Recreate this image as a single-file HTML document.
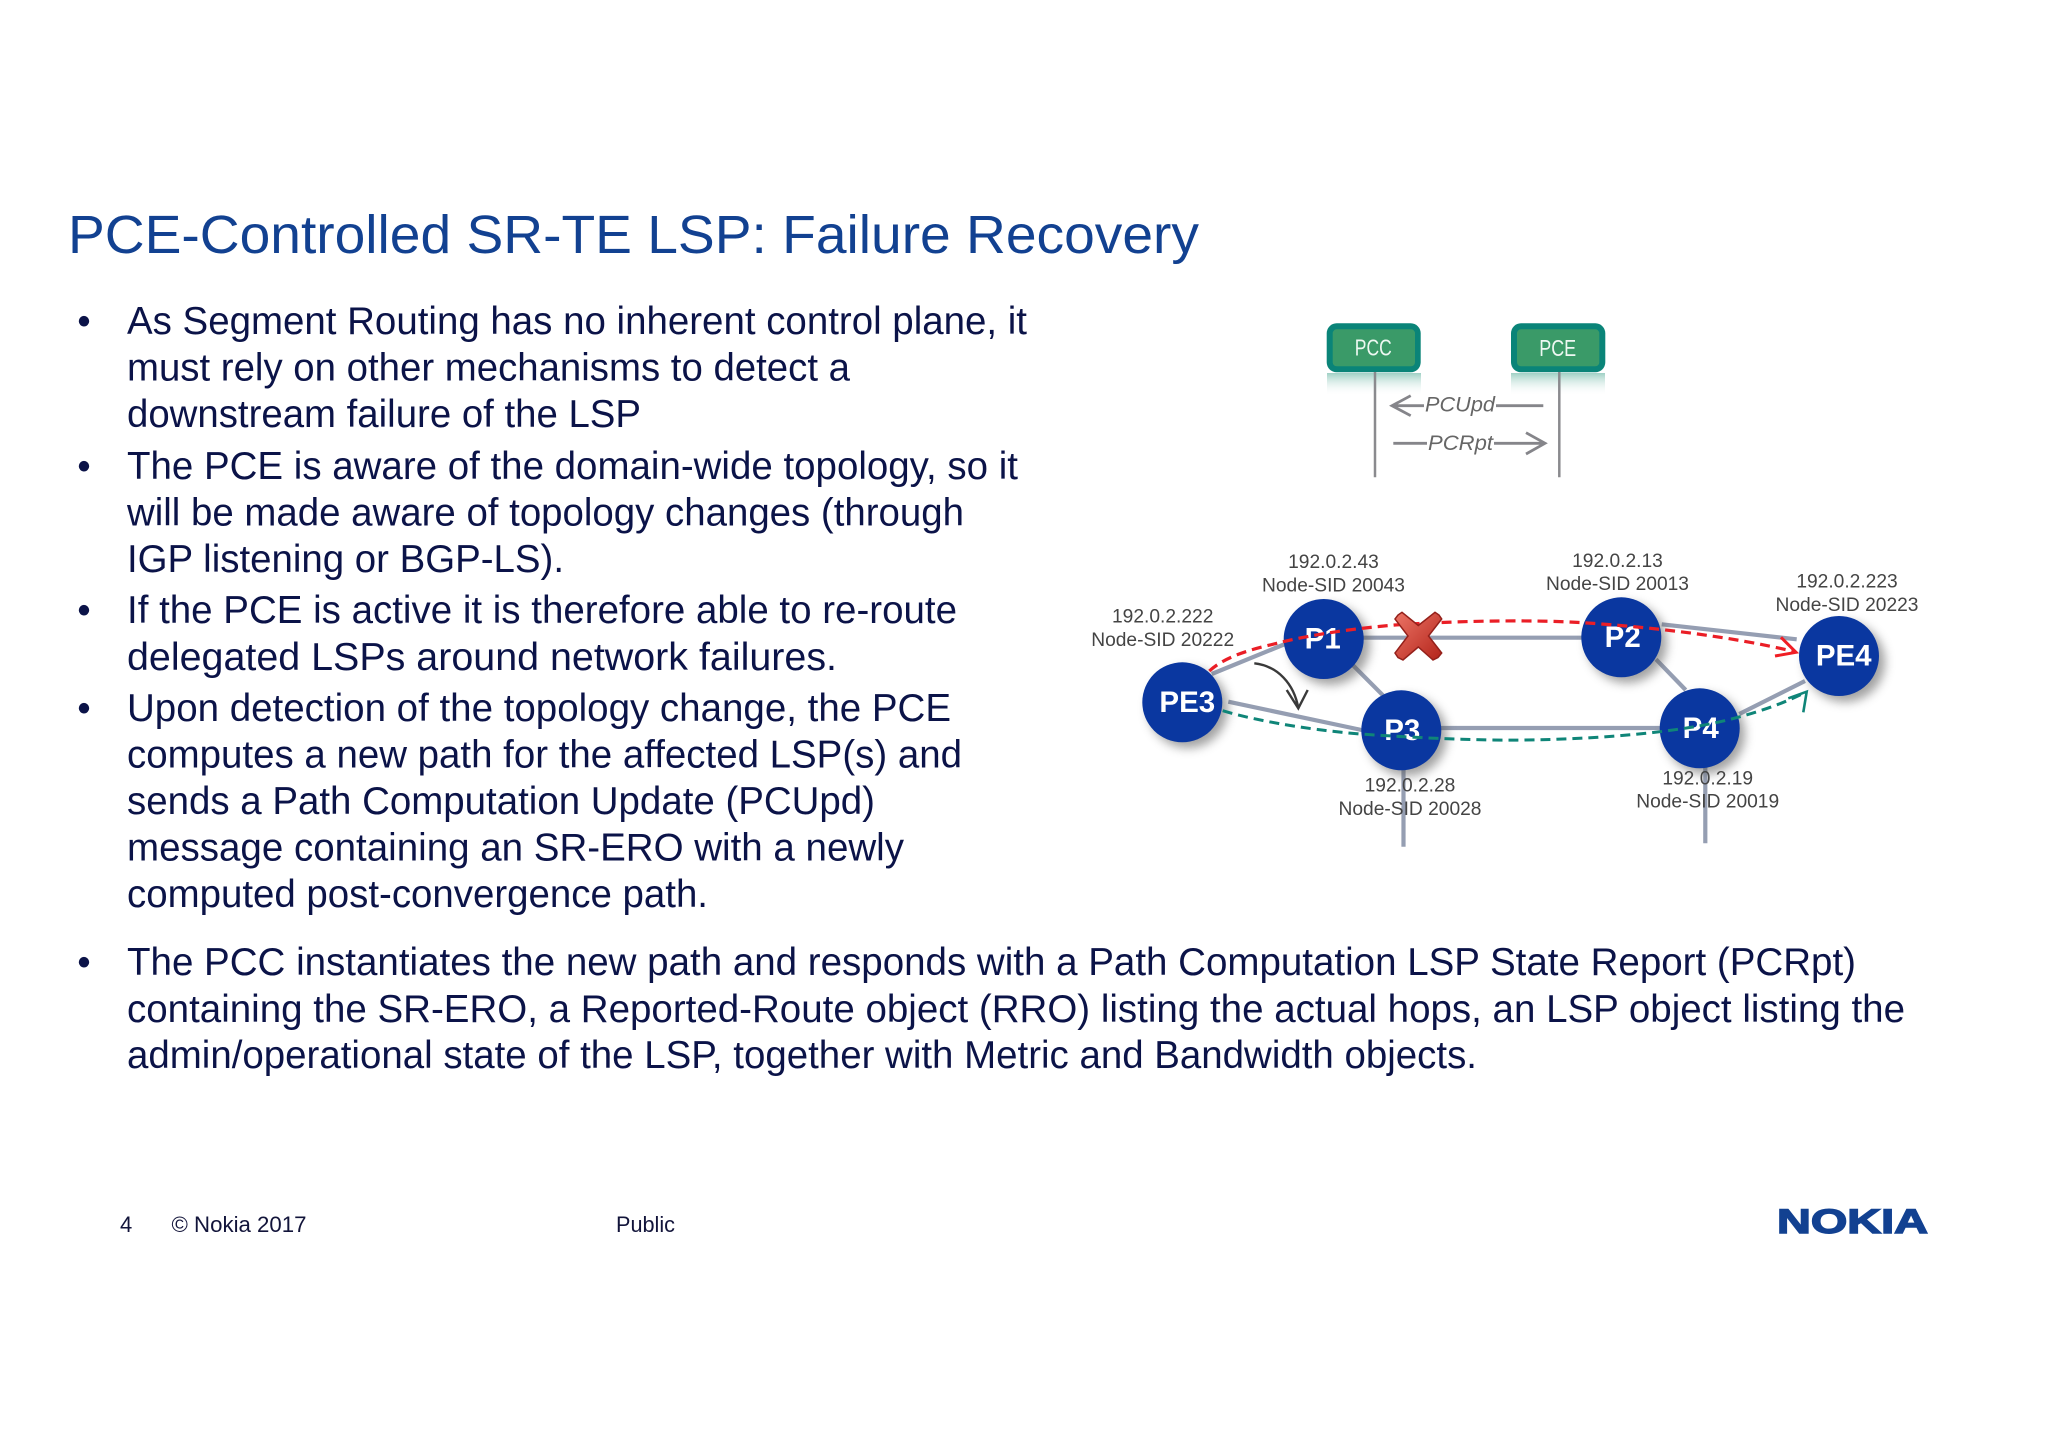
<!DOCTYPE html>
<html><head><meta charset="utf-8"><title>PCE-Controlled SR-TE LSP: Failure Recovery</title>
<style>
html,body{margin:0;padding:0;background:#fff;width:2048px;height:1447px;overflow:hidden}
svg{display:block}
text{font-family:"Liberation Sans",Arial,sans-serif}
.b{font-size:38.5px;fill:#0b1348}
.l{font-size:19.2px;fill:#444;text-anchor:middle}
.n{font-size:29.5px;font-weight:bold;fill:#fff;text-anchor:middle}
.f{font-size:22px;fill:#12143a}
.lk{stroke:#959eb2;stroke-width:4.2;fill:none}
.node{fill:#0a37a0}
</style></head><body>
<svg width="2048" height="1447" viewBox="0 0 2048 1447" xmlns="http://www.w3.org/2000/svg">
<defs>
<filter id="sh" x="-40%" y="-40%" width="200%" height="200%"><feGaussianBlur stdDeviation="5"/></filter>
<linearGradient id="rf" x1="0" y1="0" x2="0" y2="1"><stop offset="0" stop-color="#8ec8ba" stop-opacity=".85"/><stop offset="1" stop-color="#fff" stop-opacity="0"/></linearGradient>
<linearGradient id="xg" x1="0" y1="0" x2="1" y2="1"><stop offset="0" stop-color="#ec7466"/><stop offset="1" stop-color="#b3241a"/></linearGradient>
</defs>
<rect width="2048" height="1447" fill="#fff"/>

<text x="68" y="253" font-size="54" fill="#124191" textLength="1131" lengthAdjust="spacingAndGlyphs">PCE-Controlled SR-TE LSP: Failure Recovery</text>

<g class="bl">
<text class="b" x="84" y="334" text-anchor="middle">•</text>
<text class="b" x="127" y="334" textLength="900" lengthAdjust="spacingAndGlyphs">As Segment Routing has no inherent control plane, it</text>
<text class="b" x="127" y="380.5" textLength="723" lengthAdjust="spacingAndGlyphs">must rely on other mechanisms to detect a</text>
<text class="b" x="127" y="427" textLength="514" lengthAdjust="spacingAndGlyphs">downstream failure of the LSP</text>
<text class="b" x="84" y="479" text-anchor="middle">•</text>
<text class="b" x="127" y="479" textLength="891" lengthAdjust="spacingAndGlyphs">The PCE is aware of the domain-wide topology, so it</text>
<text class="b" x="127" y="525.5" textLength="837" lengthAdjust="spacingAndGlyphs">will be made aware of topology changes (through</text>
<text class="b" x="127" y="572" textLength="437" lengthAdjust="spacingAndGlyphs">IGP listening or BGP-LS).</text>
<text class="b" x="84" y="623" text-anchor="middle">•</text>
<text class="b" x="127" y="623" textLength="830" lengthAdjust="spacingAndGlyphs">If the PCE is active it is therefore able to re-route</text>
<text class="b" x="127" y="670" textLength="710" lengthAdjust="spacingAndGlyphs">delegated LSPs around network failures.</text>
<text class="b" x="84" y="721" text-anchor="middle">•</text>
<text class="b" x="127" y="721" textLength="824" lengthAdjust="spacingAndGlyphs">Upon detection of the topology change, the PCE</text>
<text class="b" x="127" y="767.5" textLength="835" lengthAdjust="spacingAndGlyphs">computes a new path for the affected LSP(s) and</text>
<text class="b" x="127" y="814" textLength="748" lengthAdjust="spacingAndGlyphs">sends a Path Computation Update (PCUpd)</text>
<text class="b" x="127" y="860.5" textLength="777" lengthAdjust="spacingAndGlyphs">message containing an SR-ERO with a newly</text>
<text class="b" x="127" y="907" textLength="581" lengthAdjust="spacingAndGlyphs">computed post-convergence path.</text>
<text class="b" x="84" y="975" text-anchor="middle">•</text>
<text class="b" x="127" y="975" textLength="1729" lengthAdjust="spacingAndGlyphs">The PCC instantiates the new path and responds with a Path Computation LSP State Report (PCRpt)</text>
<text class="b" x="127" y="1022" textLength="1778" lengthAdjust="spacingAndGlyphs">containing the SR-ERO, a Reported-Route object (RRO) listing the actual hops, an LSP object listing the</text>
<text class="b" x="127" y="1068" textLength="1350" lengthAdjust="spacingAndGlyphs">admin/operational state of the LSP, together with Metric and Bandwidth objects.</text>
</g>

<!-- sequence diagram -->
<rect x="1327" y="373" width="94" height="23" fill="url(#rf)"/>
<rect x="1511" y="373" width="94" height="23" fill="url(#rf)"/>
<rect x="1326.7" y="323.3" width="94" height="49" rx="10" fill="#0a8478"/>
<rect x="1511" y="323.3" width="94.3" height="49" rx="10" fill="#0a8478"/>
<rect x="1332.7" y="329.3" width="82.3" height="37" rx="4" fill="#3a9a68"/>
<rect x="1517" y="329.3" width="82.3" height="37" rx="4" fill="#3a9a68"/>
<text x="1373.3" y="355.5" font-size="23" fill="#eef8f2" text-anchor="middle" textLength="37" lengthAdjust="spacingAndGlyphs">PCC</text>
<text x="1557.7" y="356" font-size="23" fill="#eef8f2" text-anchor="middle" textLength="37" lengthAdjust="spacingAndGlyphs">PCE</text>
<line x1="1375" y1="372" x2="1375" y2="477.3" stroke="#8a8a8e" stroke-width="2.5"/>
<line x1="1559.3" y1="372" x2="1559.3" y2="477.3" stroke="#8a8a8e" stroke-width="2.5"/>
<g stroke="#85858a" stroke-width="2.8" fill="none">
<path d="M1392 405.7H1424M1410.7 395.7L1392 405.7L1410.7 415.7"/>
<path d="M1496 405.7H1543.3"/>
<path d="M1393.3 443.3H1427"/>
<path d="M1494 443.3H1544M1526 432.7L1545 443.3L1526 454"/>
</g>
<text x="1425" y="411.5" font-size="21.5" font-style="italic" fill="#666" textLength="70" lengthAdjust="spacingAndGlyphs">PCUpd</text>
<text x="1428" y="450" font-size="21.5" font-style="italic" fill="#666" textLength="65" lengthAdjust="spacingAndGlyphs">PCRpt</text>

<!-- links -->
<path class="lk" d="M1323 637.7H1622"/>
<path class="lk" d="M1211.7 674L1290 642"/>
<path class="lk" d="M1228.3 701.7L1364 730.5"/>
<path class="lk" d="M1400 728H1700"/>
<path class="lk" stroke-width="3.6" d="M1352.7 665L1383.3 695.7"/>
<path class="lk" stroke-width="3.6" d="M1656 659.3L1685.7 690"/>
<path class="lk" d="M1661.7 624.3L1796.7 639.3"/>
<path class="lk" d="M1739.3 714L1805 681"/>
<path class="lk" stroke-width="3.5" d="M1403.5 765V846.7"/>
<path class="lk" stroke-width="3.5" d="M1705.3 765V843.3"/>

<!-- shadows + nodes -->
<g filter="url(#sh)" fill="#555" opacity=".55">
<circle cx="1188" cy="708" r="40"/><circle cx="1330" cy="645" r="40"/><circle cx="1627" cy="643" r="40"/>
<circle cx="1845" cy="662" r="40"/><circle cx="1407" cy="736" r="40"/><circle cx="1705" cy="734" r="40"/>
</g>
<circle class="node" cx="1182.3" cy="702.3" r="40"/>
<circle class="node" cx="1323.7" cy="639" r="40"/>
<circle class="node" cx="1621.3" cy="637.3" r="40"/>
<circle class="node" cx="1839" cy="656" r="40"/>
<circle class="node" cx="1401.3" cy="730.3" r="40"/>
<circle class="node" cx="1699.7" cy="728.3" r="40"/>
<text class="n" x="1187.3" y="712">PE3</text>
<text class="n" x="1322.7" y="648.5">P1</text>
<text class="n" x="1622.7" y="647">P2</text>
<text class="n" x="1843.7" y="665.7">PE4</text>
<text class="n" x="1402.3" y="740">P3</text>
<text class="n" x="1700.7" y="738">P4</text>

<!-- curved arrow -->
<path d="M1254.3 663.3C1278 666 1294 684 1298.3 708M1286.7 690L1298.3 708.3L1307.7 690" fill="none" stroke="#3a3a3a" stroke-width="2.4"/>

<!-- dashed paths -->
<path d="M1209.3 671C1228 654 1258 648 1283.3 641.7C1320 633 1360 628 1395 625C1470 620 1540 620 1583 622.7C1650 627 1730 636 1796 652" fill="none" stroke="#ea1e26" stroke-width="3.2" stroke-dasharray="10 6"/>
<path d="M1781 637.3L1796 652.3L1775 656" fill="none" stroke="#f01e24" stroke-width="3"/>
<path d="M1222.7 710.7C1250 719 1300 729 1360 734C1420 738 1450 739 1490 740C1570 741 1640 735 1680 729C1730 722 1775 708 1806 692" fill="none" stroke="#0f8578" stroke-width="3" stroke-dasharray="10 6"/>
<path d="M1788.3 698.3L1806.7 691.7L1803.3 712.3" fill="none" stroke="#0f8578" stroke-width="2.6"/>

<!-- X -->
<path d="M1402 612.3L1418.3 625.5L1435 612.3L1439 615L1441.7 619L1428.5 636L1441.7 653L1438 657.5L1433 660L1418.3 647L1403 660L1398 657.5L1395 653L1408 636L1395 619L1398 615Z" fill="url(#xg)" stroke="#94201a" stroke-width="1.5"/>

<!-- labels -->
<text class="l" x="1333.5" y="568">192.0.2.43</text><text class="l" x="1333.5" y="591.5">Node-SID 20043</text>
<text class="l" x="1617.5" y="567">192.0.2.13</text><text class="l" x="1617.5" y="590">Node-SID 20013</text>
<text class="l" x="1847" y="587.5">192.0.2.223</text><text class="l" x="1847" y="611">Node-SID 20223</text>
<text class="l" x="1162.7" y="622.7">192.0.2.222</text><text class="l" x="1162.7" y="646">Node-SID 20222</text>
<text class="l" x="1410" y="791.7">192.0.2.28</text><text class="l" x="1410" y="815">Node-SID 20028</text>
<text class="l" x="1707.7" y="784.3">192.0.2.19</text><text class="l" x="1707.7" y="807.7">Node-SID 20019</text>

<!-- footer -->
<text class="f" x="120" y="1232">4</text>
<text class="f" x="171.5" y="1232" textLength="135" lengthAdjust="spacingAndGlyphs">© Nokia 2017</text>
<text class="f" x="616" y="1232" textLength="59" lengthAdjust="spacingAndGlyphs">Public</text>
<text x="1777" y="1233" font-size="34" font-weight="bold" fill="#124191" stroke="#124191" stroke-width="1.4" textLength="151" lengthAdjust="spacingAndGlyphs">NOKIA</text>
</svg>
</body></html>
